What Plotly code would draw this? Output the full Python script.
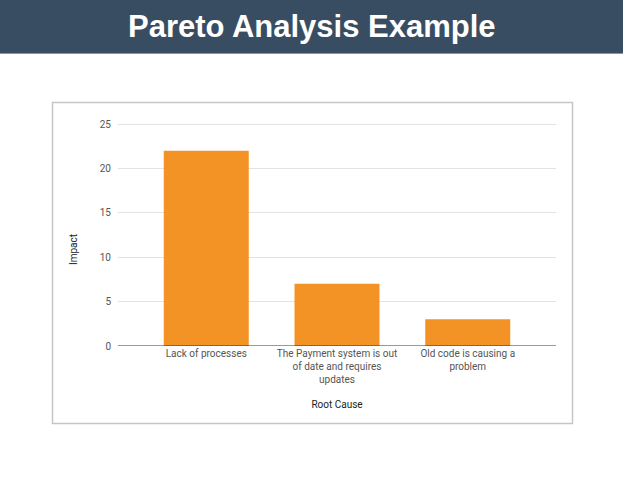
import plotly.graph_objects as go

categories = ["Lack of processes",
              "The Payment system is out<br>of date and requires<br>updates",
              "Old code is causing a<br>problem"]
impact = [22, 7, 3]
y_ticks = [0, 5, 10, 15, 20, 25]

W, H = 623, 487
L, R, T, B = 118, 556, 122, 346

def px(x):
    return (x - L) / (R - L)

def py(y):
    return (B - y) / (B - T)

fig = go.Figure()
fig.add_trace(go.Bar(x=[0, 1, 2], y=impact, marker=dict(color="#f39325", line=dict(width=0)),
                     width=0.65, hoverinfo="skip"))

fig.update_layout(
    width=W, height=H,
    margin=dict(l=L, r=W - R, t=T, b=H - B),
    paper_bgcolor="white", plot_bgcolor="white",
    showlegend=False,
    font=dict(family="Roboto, Arial, sans-serif", size=10, color="#555"),
    xaxis=dict(range=[-0.675, 2.675], tickvals=[0, 1, 2], ticktext=categories,
               showgrid=False, zeroline=False, showline=False, ticks="",
               tickfont=dict(size=10, color="#555"),
               title=dict(text="Root Cause", font=dict(size=10, color="#222"), standoff=16)),
    yaxis=dict(range=[0, 25.225], tickvals=y_ticks, showgrid=True, gridcolor="#e3e3e3",
               gridwidth=1, zeroline=False, showline=False, ticks="",
               tickfont=dict(size=10, color="#555"), ticklabelstandoff=6),
    shapes=[
        # header band
        dict(type="rect", xref="paper", yref="paper", x0=px(0), x1=px(W), y0=py(0), y1=py(53),
             fillcolor="#384d62", line=dict(width=0), layer="below"),
        dict(type="line", xref="paper", yref="paper", x0=px(0), x1=px(W), y0=py(53.5), y1=py(53.5),
             line=dict(color="#8796a6", width=1)),
        # chart frame
        dict(type="rect", xref="paper", yref="paper", x0=px(52.5), x1=px(572.5), y0=py(102.5), y1=py(423.5),
             fillcolor="rgba(0,0,0,0)", line=dict(color="#c6c6c6", width=1.5), layer="below"),
        # baseline
        dict(type="line", xref="paper", yref="y", x0=0, x1=1, y0=0, y1=0,
             line=dict(color="#333333", width=1)),
    ],
    annotations=[
        dict(text="<b>Pareto Analysis Example</b>", xref="paper", yref="paper",
             x=px(W / 2), y=py(26), xanchor="center", yanchor="middle", showarrow=False,
             font=dict(family="Liberation Sans, Arial, sans-serif", size=31, color="white")),
        dict(text="Impact", xref="paper", yref="paper", x=px(73), y=py(250),
             xanchor="center", yanchor="middle", showarrow=False, textangle=-90,
             font=dict(family="Roboto, Arial, sans-serif", size=10, color="#222")),
    ],
)

fig.write_html("out.html", config={"displayModeBar": False},
               post_script="document.body.style.margin='0';document.body.style.overflow='hidden';")
